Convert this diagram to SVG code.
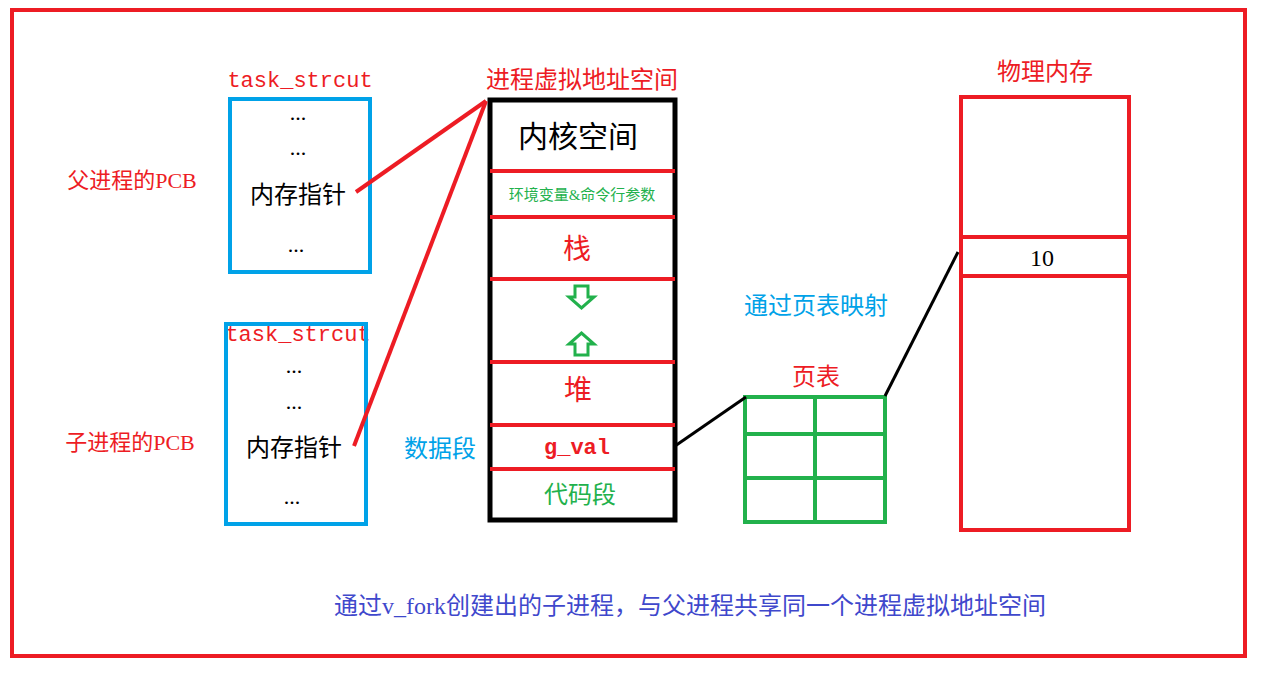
<svg xmlns="http://www.w3.org/2000/svg" width="1266" height="676" viewBox="0 0 1266 676">
<style>
.cn{font-family:"Liberation Serif","Noto Sans CJK SC",serif}
.mono{font-family:"Liberation Mono","Noto Sans CJK SC",monospace}
.red{fill:#ed1c24}.blue{fill:#00a2e8}.green{fill:#22b14c}.blk{fill:#000}
.rl{stroke:#ed1c24;stroke-width:4}
</style>
<rect width="1266" height="676" fill="#fff"/>
<rect x="12" y="10" width="1233" height="646" fill="none" stroke="#ed1c24" stroke-width="4"/>
<g id="parent">
<text x="300" y="87" class="mono red" font-size="22" text-anchor="middle">task_strcut</text>
<rect x="230" y="99" width="140" height="173" fill="none" stroke="#00a2e8" stroke-width="4"/>
<text x="298" y="120" class="cn blk" font-size="22" text-anchor="middle">...</text>
<text x="298" y="155" class="cn blk" font-size="22" text-anchor="middle">...</text>
<text x="298" y="203" class="cn blk" font-size="24" text-anchor="middle">内存指针</text>
<text x="296" y="252" class="cn blk" font-size="22" text-anchor="middle">...</text>
<text x="132" y="188" class="cn red" font-size="22" text-anchor="middle">父进程的PCB</text>
</g>
<g id="child">
<text x="298" y="341" class="mono red" font-size="22" text-anchor="middle">task_strcut</text>
<rect x="226" y="324" width="140" height="200" fill="none" stroke="#00a2e8" stroke-width="4"/>
<text x="294" y="373" class="cn blk" font-size="22" text-anchor="middle">...</text>
<text x="294" y="409" class="cn blk" font-size="22" text-anchor="middle">...</text>
<text x="294" y="456" class="cn blk" font-size="24" text-anchor="middle">内存指针</text>
<text x="292" y="504" class="cn blk" font-size="22" text-anchor="middle">...</text>
<text x="130" y="450" class="cn red" font-size="22" text-anchor="middle">子进程的PCB</text>
</g>
<g id="vas">
<text x="582" y="88" class="cn red" font-size="24" text-anchor="middle">进程虚拟地址空间</text>
<rect x="490" y="100" width="185" height="420" fill="none" stroke="#000" stroke-width="5"/>
<line x1="490" y1="171" x2="675" y2="171" class="rl"/>
<line x1="490" y1="217" x2="675" y2="217" class="rl"/>
<line x1="490" y1="279" x2="675" y2="279" class="rl"/>
<line x1="490" y1="362" x2="675" y2="362" class="rl"/>
<line x1="490" y1="425" x2="675" y2="425" class="rl"/>
<line x1="490" y1="469" x2="675" y2="469" class="rl"/>
<text x="578" y="147" class="cn blk" font-size="30" text-anchor="middle">内核空间</text>
<text x="582" y="200" class="cn green" font-size="15" text-anchor="middle">环境变量&amp;命令行参数</text>
<text x="577" y="259" class="cn red" font-size="28" text-anchor="middle">栈</text>
<path d="M575,286 h13 v11 h6 l-12.5,11 l-12.5,-11 h6 z" fill="none" stroke="#22b14c" stroke-width="3"/>
<path d="M575,355 h13 v-11 h6 l-12.5,-11 l-12.5,11 h6 z" fill="none" stroke="#22b14c" stroke-width="3"/>
<text x="578" y="400" class="cn red" font-size="28" text-anchor="middle">堆</text>
<text x="577" y="454" class="mono red" font-size="22" text-anchor="middle" font-weight="bold">g_val</text>
<text x="580" y="503" class="cn green" font-size="24" text-anchor="middle">代码段</text>
<text x="440" y="457" class="cn blue" font-size="24" text-anchor="middle">数据段</text>
</g>
<g id="pagetable">
<text x="816" y="314" class="cn blue" font-size="24" text-anchor="middle">通过页表映射</text>
<text x="816" y="385" class="cn red" font-size="24" text-anchor="middle">页表</text>
<rect x="745" y="397" width="140" height="125" fill="none" stroke="#22b14c" stroke-width="4"/>
<line x1="815" y1="397" x2="815" y2="522" stroke="#22b14c" stroke-width="4"/>
<line x1="745" y1="434" x2="885" y2="434" stroke="#22b14c" stroke-width="4"/>
<line x1="745" y1="478" x2="885" y2="478" stroke="#22b14c" stroke-width="4"/>
</g>
<g id="physmem">
<text x="1045" y="80" class="cn red" font-size="24" text-anchor="middle">物理内存</text>
<rect x="961" y="97" width="168" height="433" fill="none" stroke="#ed1c24" stroke-width="4"/>
<rect x="961" y="237" width="168" height="39" fill="none" stroke="#ed1c24" stroke-width="4"/>
<text x="1042" y="266" class="cn blk" font-size="24" text-anchor="middle">10</text>
</g>
<g id="connectors">
<line x1="356" y1="192" x2="486" y2="101" stroke="#ed1c24" stroke-width="4"/>
<line x1="354" y1="446" x2="486" y2="101" stroke="#ed1c24" stroke-width="4"/>
<line x1="675" y1="446" x2="746" y2="397" stroke="#000" stroke-width="3"/>
<line x1="885" y1="396" x2="958" y2="252" stroke="#000" stroke-width="3"/>
</g>
<text x="690" y="614" class="cn" fill="#3f48cc" font-size="24" text-anchor="middle">通过v_fork创建出的子进程，与父进程共享同一个进程虚拟地址空间</text>
</svg>
